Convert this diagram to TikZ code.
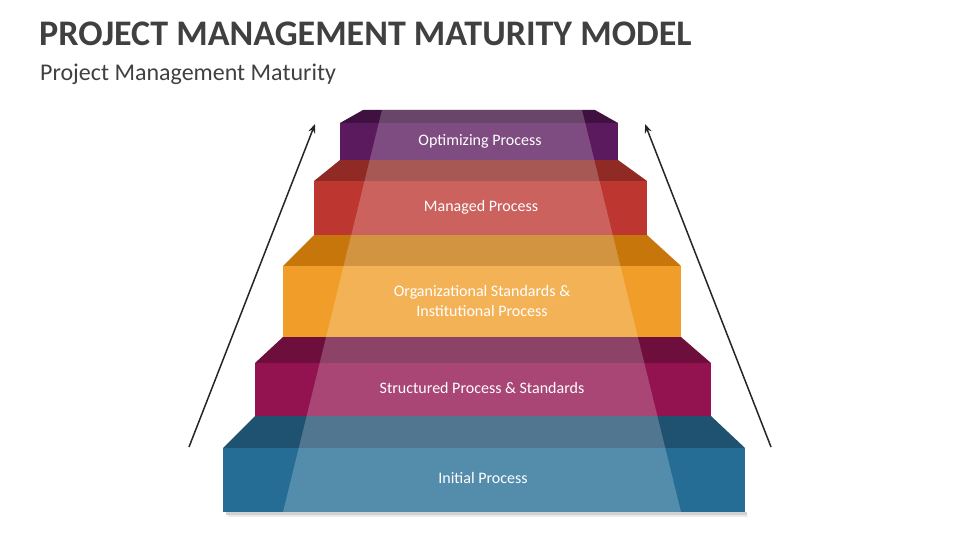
\documentclass[tikz,border=0pt]{standalone}
\usepackage{fontspec}
\setmainfont{Carlito}
\usetikzlibrary{arrows.meta}
\definecolor{titlegray}{HTML}{404040}
\definecolor{bluefront}{HTML}{256D94}
\definecolor{bluetop}{HTML}{1F5170}
\definecolor{magfront}{HTML}{921350}
\definecolor{magtop}{HTML}{6D0E3D}
\definecolor{orafront}{HTML}{F19D29}
\definecolor{oratop}{HTML}{C6760B}
\definecolor{redfront}{HTML}{BD3630}
\definecolor{redtop}{HTML}{8F2A24}
\definecolor{purfront}{HTML}{5A1A5D}
\definecolor{purtop}{HTML}{3F1141}
\definecolor{arrowgray}{HTML}{262626}
\tikzset{
  steplabel/.style={text=white, font=\fontsize{16}{19}\selectfont, align=center, inner sep=0pt},
  riser/.style={-{Stealth[length=9pt,width=7pt]}, arrowgray, line width=1.5pt},
  glass/.style={fill=white, fill opacity=0.22, draw=none}
}
\begin{document}
\begin{tikzpicture}[x=1pt,y=-1pt]
\useasboundingbox (0,0) rectangle (960,540);
\fill[white] (0,0) rectangle (960,540);
% title
\node[anchor=base west, inner sep=0pt, text=titlegray, font=\fontsize{36}{40}\selectfont\bfseries] (title) at (39,46) {PROJECT MANAGEMENT MATURITY MODEL};
\node[anchor=base west, inner sep=0pt, text=titlegray, font=\fontsize{24}{28}\selectfont] (subtitle) at (40,81) {Project Management Maturity};
% shadow
\fill[black!18] (226,512) rectangle (747,515);
\fill[black!8] (228,515) rectangle (748,517);
% level 1 blue
\fill[bluetop] (255,416) -- (711,416) -- (745,448) -- (223,448) -- cycle;
\fill[bluefront] (223,448) rectangle (745,512);
% level 2 magenta
\fill[magtop] (283,337) -- (681,337) -- (711,363) -- (255,363) -- cycle;
\fill[magfront] (255,363) rectangle (711,416);
% level 3 orange
\fill[oratop] (314,235) -- (647,235) -- (681,266) -- (283,266) -- cycle;
\fill[orafront] (283,266) rectangle (681,337);
% level 4 red
\fill[redtop] (340,160) -- (618,160) -- (647,181) -- (314,181) -- cycle;
\fill[redfront] (314,181) rectangle (647,235);
% level 5 purple
\fill[purtop] (363,110) -- (595,110) -- (618,123) -- (340,123) -- cycle;
\fill[purfront] (340,123) rectangle (618,160);
% glass overlay
\fill[glass] (382,110) -- (582,110) -- (681,512) -- (283,512) -- cycle;
% labels
\node[steplabel] (l5) at (480,141) {Optimizing Process};
\node[steplabel] (l4) at (481,207) {Managed Process};
\node[steplabel] (l3) at (482,301) {Organizational Standards \&\\[1pt]Institutional Process};
\node[steplabel] (l2) at (482,388) {Structured Process \& Standards};
\node[steplabel] (l1) at (483,478) {Initial Process};
% arrows
\coordinate (la) at (189,447);
\coordinate (lb) at (315,124);
\coordinate (ra) at (771,447);
\coordinate (rb) at (645,124);
\draw[riser] (la) -- (lb);
\draw[riser] (ra) -- (rb);
\end{tikzpicture}
\end{document}
